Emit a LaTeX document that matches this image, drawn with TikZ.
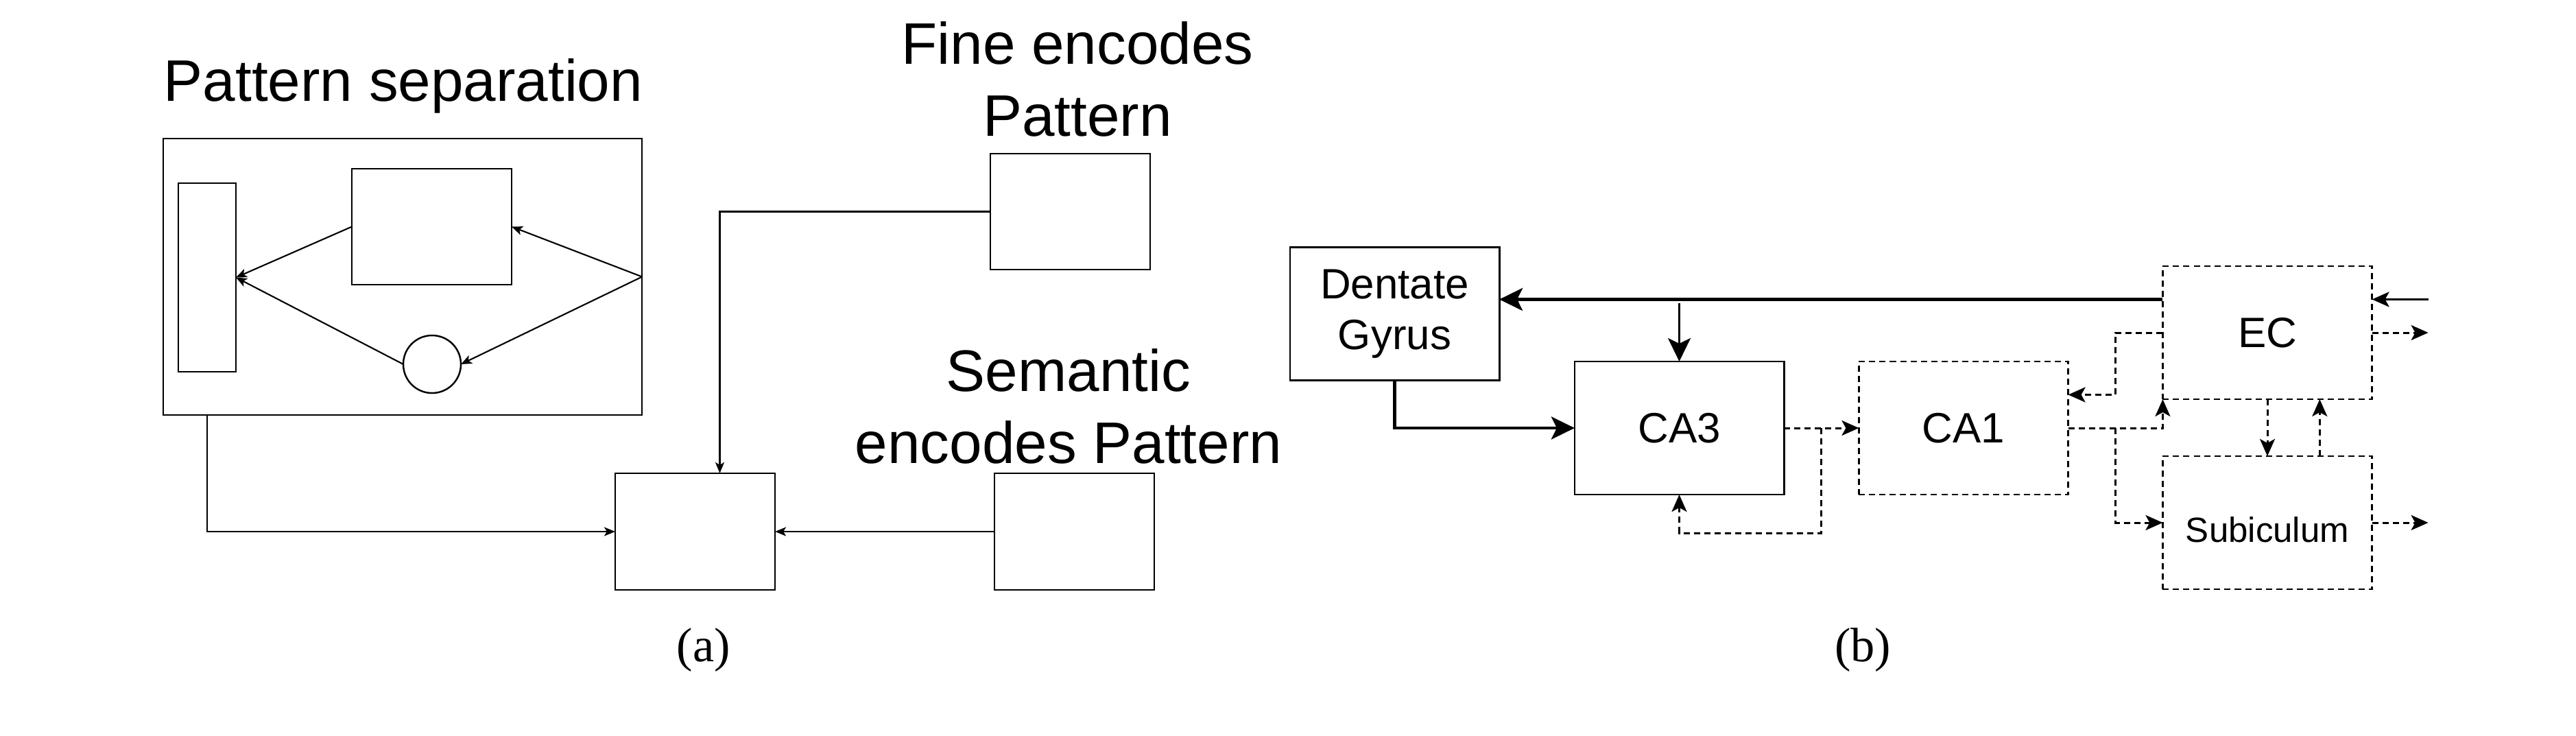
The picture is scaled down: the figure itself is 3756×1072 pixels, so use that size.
\documentclass[tikz,border=0pt]{standalone}
\usepackage{fontspec}
\setmainfont{Liberation Sans}
\newfontfamily\capfont{Liberation Serif}
\usetikzlibrary{arrows.meta,calc}
\begin{document}
\begin{tikzpicture}[x=0.01cm,y=-0.01cm,
  abox/.style={draw, line width=0.7pt, inner sep=0pt, outer sep=0pt},
  aarrow/.style={line width=0.6pt, -{Stealth[length=0.16cm,width=0.13cm,inset=0.04cm]}},
  bbox/.style={draw, line width=0.8pt, inner sep=0pt, outer sep=0pt, minimum width=3.05cm, minimum height=1.94cm, font=\fontsize{17.6}{21}\selectfont, align=center},
  bdashed/.style={dash pattern=on 0.09cm off 0.06cm},
  thickarrow/.style={line width=1.3pt, -{Stealth[length=0.34cm,width=0.33cm,inset=0.08cm]}},
  midarrow/.style={line width=1.1pt, -{Stealth[length=0.34cm,width=0.33cm,inset=0.08cm]}},
  darrow/.style={line width=0.85pt, bdashed, -{Stealth[length=0.25cm,width=0.22cm,inset=0.06cm]}},
  inarrow/.style={line width=0.85pt, -{Stealth[length=0.25cm,width=0.22cm,inset=0.06cm]}},
  bigtext/.style={font=\fontsize{24.3}{29.6}\selectfont, align=center, inner sep=0pt},
  captext/.style={font=\capfont\fontsize{20}{24}\selectfont, inner sep=0pt, anchor=base}
]
\fill[white] (0,0) rectangle (3756,1072);
\useasboundingbox (0,0) rectangle (3756,1072);

% ---------- (a) ----------
\node[bigtext, anchor=base] (pstitle) at (588,147) {Pattern separation};
\node[abox, minimum width=6.98cm, minimum height=4.03cm] (ps) at (587,403.5) {};
\node[abox, minimum width=0.84cm, minimum height=2.75cm] (tall) at (302,404.5) {};
\node[abox, minimum width=2.33cm, minimum height=1.69cm] (sq) at (629.5,330.5) {};
\node[abox, circle, minimum size=0.84cm] (circ) at (630,531) {};
\draw[aarrow] (ps.east) -- (sq.east);
\draw[aarrow] (ps.east) -- (circ.east);
\draw[aarrow] (sq.west) -- (tall.east);
\draw[aarrow] (circ.west) -- (tall.east);

\node[bigtext, anchor=base] (finetitle) at (1571,198) {Fine encodes\\Pattern};
\node[abox, minimum width=2.33cm, minimum height=1.69cm] (fine) at (1560.5,308.5) {};
\node[bigtext, anchor=base] (semtitle) at (1558,675) {Semantic\\encodes Pattern};
\node[abox, minimum width=2.33cm, minimum height=1.70cm] (ctr) at (1013.5,775) {};
\node[abox, minimum width=2.33cm, minimum height=1.70cm] (sem) at (1566.5,775) {};

\draw[aarrow] (tall |- ps.south) |- (ctr.west);
\draw[aarrow] (fine.west) -| ($(ctr.north)+(36,0)$);
\draw[aarrow] (sem.west) -- (ctr.east);

\node[captext] (capa) at (1026,964) {(a)};

% ---------- (b) ----------
\node[bbox] (dg) at (2033.5,457.5) {Dentate\\Gyrus};
\node[bbox] (ca3) at (2448.5,624) {CA3};
\node[bbox, bdashed] (ca1) at (2863,624) {CA1};
\node[bbox, bdashed] (ec) at (3306,485) {EC};
\node[bbox, bdashed] (sub) at (3306,762) {};
\node[font=\fontsize{14.5}{17}\selectfont, anchor=base, inner sep=0pt] (sublbl) at (3306,790) {Subiculum};

\coordinate (ecq) at ($(ec.north west)!0.25!(ec.south west)$);
\coordinate (ecqR) at ($(ec.north east)!0.25!(ec.south east)$);
\draw[thickarrow] (ecq) -- (dg.east |- ecq);
\draw[midarrow] ($(ca3.north |- ecq)+(0,6)$) -- (ca3.north);
\draw[thickarrow] (dg.south) |- (ca3.west);

\draw[darrow] (ca3.east) -- (ca1.west);
\coordinate (br1) at ($(ca3.east)!0.5!(ca1.west)$);
\draw[darrow] (br1) -- ++(0,153) -| (ca3.south);

\coordinate (br2) at ($(ca1.east)!0.5!(ec.west |- ca1.east)$);
\draw[darrow] (ca1.east) -| (ec.south west);
\draw[darrow] (br2) |- (sub.west);
\coordinate (ca1q) at ($(ca1.north east)!0.25!(ca1.south east)$);
\draw[darrow] (ec.west) -| (br2 |- ca1q) -- (ca1q);

\draw[darrow] (ec.south) -- (sub.north);
\coordinate (subR) at ($(sub.north)!0.5!(sub.north east)$);
\draw[darrow] (subR) -- (subR |- ec.south);

\coordinate (inEC) at ($(ecqR)+(82,0)$);
\draw[inarrow] (inEC) -- (ecqR);
\coordinate (outEC) at ($(ec.east)+(82,0)$);
\draw[darrow] (ec.east) -- (outEC);
\coordinate (outSub) at ($(sub.east)+(82,0)$);
\draw[darrow] (sub.east) -- (outSub);

\node[captext] (capb) at (2716,964) {(b)};
\end{tikzpicture}
\end{document}
